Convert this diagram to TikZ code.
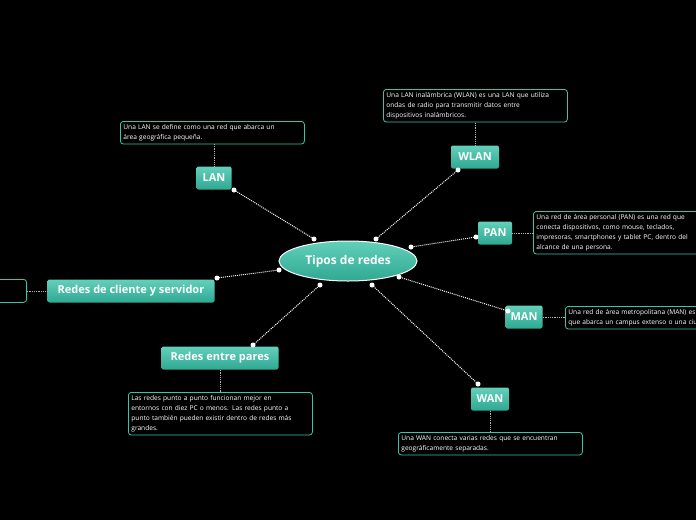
\documentclass[tikz,border=0pt]{standalone}
\usepackage{fontspec}
\setmainfont{Open Sans}
\usetikzlibrary{shapes.geometric}
\definecolor{teal1}{HTML}{3BC4A8}
\definecolor{teal2}{HTML}{2FA892}
\begin{document}
\begin{tikzpicture}[x=1pt,y=-1pt,
 topic/.style={rectangle,rounded corners=2pt,top color=teal1!80!white,bottom color=teal2,text=white,font=\bfseries\fontsize{11}{13}\selectfont,inner sep=0pt,minimum height=23pt},
 note/.style={rectangle,rounded corners=3pt,draw=teal1,line width=0.8pt,fill=black,text=white,font=\fontsize{6.6}{10}\selectfont,align=left,anchor=north west,inner sep=3pt},
 link/.style={white,densely dotted,line width=1pt},
 nlink/.style={white!70!black,densely dotted,line width=0.8pt},
 dot/.style={circle,fill=white,inner sep=0pt,minimum size=5pt}]
\fill[black] (0,0) rectangle (696,520);
\clip (0,0) rectangle (696,520);
\node[ellipse,draw=white,line width=1pt,top color=teal1!80!white,bottom color=teal2,text=white,font=\bfseries\fontsize{12}{14}\selectfont,minimum width=138pt,minimum height=40pt] (c) at (348,261) {Tipos de redes};
\node[topic,minimum width=35pt] (lan) at (214,178) {LAN};
\node[topic,minimum width=48pt] (wlan) at (475,157) {WLAN};
\node[topic,minimum width=34pt] (pan) at (495,233) {PAN};
\node[topic,minimum width=37pt] (man) at (524,317) {MAN};
\node[topic,minimum width=38pt] (wan) at (490,399) {WAN};
\node[topic,minimum width=117pt] (p2p) at (220,358) {Redes entre pares};
\node[topic,minimum width=167pt] (cs) at (131,291) {Redes de cliente y servidor};
\node[note,text width=178pt] (nlan) at (120,121) {Una LAN se define como una red que abarca un\\área geográfica pequeña.};
\node[note,text width=178pt] (nwlan) at (383,89) {Una LAN inalámbrica (WLAN) es una LAN que utiliza\\ondas de radio para transmitir datos entre\\dispositivos inalámbricos.};
\node[note,text width=178pt] (npan) at (533,211) {Una red de área personal (PAN) es una red que\\conecta dispositivos, como mouse, teclados,\\impresoras, smartphones y tablet PC, dentro del\\alcance de una persona.};
\node[note,text width=178pt] (nman) at (565,306) {Una red de área metropolitana (MAN) es una red\\que abarca un campus extenso o una ciudad.};
\node[note,text width=178pt] (nwan) at (398,432) {Una WAN conecta varias redes que se encuentran\\geográficamente separadas.};
\node[note,text width=178pt] (np2p) at (128,392) {Las redes punto a punto funcionan mejor en\\entornos con diez PC o menos. Las redes punto a\\punto también pueden existir dentro de redes más\\grandes.};
\node[note,text width=178pt,anchor=north east,minimum height=23pt] (ncs) at (27,279) {Un servidor responde a cada solicitud explícita};
\draw[link] (234,190) node[dot]{} -- (314,239) node[dot]{};
\draw[link] (458,170) node[dot]{} -- (376,239) node[dot]{};
\draw[link] (476,237) node[dot]{} -- (411,247) node[dot]{};
\draw[link] (508,311) node[dot]{} -- (399,277) node[dot]{};
\draw[link] (478,384) node[dot]{} -- (372,285) node[dot]{};
\draw[link] (253,345) node[dot]{} -- (320,285) node[dot]{};
\draw[link] (217,278) node[dot]{} -- (279,270) node[dot]{};
\draw[nlink] (lan.north) -- (lan.north|-nlan.south);
\draw[nlink] (wlan.north) -- (wlan.north|-nwlan.south);
\draw[nlink] (pan.east) -- (npan.west|-pan.east);
\draw[nlink] (man.east) -- (nman.west|-man.east);
\draw[nlink] (wan.south) -- (wan.south|-nwan.north);
\draw[nlink] (p2p.south) -- (p2p.south|-np2p.north);
\draw[nlink] (cs.west) -- (ncs.east|-cs.west);
\end{tikzpicture}
\end{document}
